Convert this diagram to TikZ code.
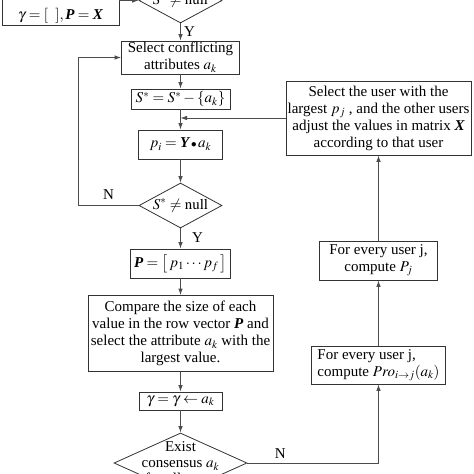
\documentclass[tikz,border=0pt]{standalone}
\usepackage{mathptmx}
\usepackage{fontspec}
\setmainfont{Liberation Serif}
\usetikzlibrary{shapes.geometric,arrows.meta}
\newcommand{\bv}[1]{\mbox{\bfseries\itshape #1}}
\tikzset{
  boxnode/.style={draw=black!80, line width=0.8pt, inner sep=1pt, align=center,
    font=\fontsize{15}{17}\selectfont},
  dianode/.style={draw=black!80, line width=0.8pt, diamond, inner sep=0pt},
  dialabel/.style={align=center, font=\fontsize{15}{16}\selectfont},
  arr/.style={draw=black!70, line width=0.8pt, -{Latex[length=6.5pt,width=4.5pt]}},
  lbl/.style={font=\fontsize{15}{17}\selectfont}
}
\begin{document}
\begin{tikzpicture}[x=1pt,y=-1pt]
\useasboundingbox (0,0) rectangle (474,474);
\clip (0,0) rectangle (474,474);
% left / main column
\node[boxnode, minimum width=117pt, text height=30pt, text depth=5pt] (init) at (60.5,7) {$\gamma=[\ \ ],\bv{P}=\bv{X}$};
\node[dianode, minimum width=83pt, minimum height=45pt,
  label={[dialabel]center:$S^{*}\neq\mathrm{null}$}] (d1) at (180.5,0.5) {};
\node[boxnode, minimum width=118pt, minimum height=33pt] (sel) at (180.5,57.5) {Select conflicting\\attributes $a_k$};
\node[boxnode, minimum width=99pt, minimum height=20pt] (smin) at (180.5,99) {$S^{*}=S^{*}-\{a_k\}$};
\node[boxnode, minimum width=84pt, minimum height=29pt] (pi) at (180.5,144.5) {$p_i=\bv{Y}\,{\scriptstyle\bullet}\,a_k$};
\node[dianode, minimum width=83pt, minimum height=45pt,
  label={[dialabel]center:$S^{*}\neq\mathrm{null}$}] (d2) at (180.5,205.5) {};
\node[boxnode, minimum width=100pt, minimum height=29pt] (pv) at (180.5,263.5) {$\bv{P}=\left[\,p_1\cdots p_f\,\right]$};
\node[boxnode, minimum width=185pt, minimum height=76pt] (cmp) at (180.5,333.5) {Compare the size of each\\value in the row vector \bv{P} and\\select the attribute $a_k$ with the\\largest value.};
\node[boxnode, minimum width=83pt, minimum height=18pt] (gam) at (180.5,401) {$\gamma=\gamma\leftarrow a_k$};
\node[dianode, minimum width=133pt, minimum height=60pt,
  label={[dialabel]center:Exist\\consensus $a_k$\\for all users}] (exist) at (180.5,463) {};
% right column
\node[boxnode, minimum width=185pt, minimum height=74pt] (usr) at (378.5,118) {Select the user with the\\largest $p_j$ , and the other users\\adjust the values in matrix \bv{X}\\according to that user};
\node[boxnode, minimum width=118pt, minimum height=39pt] (pj) at (378.5,260.5) {For every user j,\\compute $P_j$};
\node[boxnode, minimum width=134pt, minimum height=38pt, align=left] (pro) at (378.5,365) {For every user j,\\compute $Pro_{i\rightarrow j}(a_k)$};
% connectors
\draw[arr] (init.east |- d1.west) -- (d1.west);
\draw[arr] (d1.south) -- node[lbl, right=0pt, pos=0.45] {Y} (sel.north);
\draw[arr] (sel) -- (smin);
\draw[arr] (smin) -- (pi);
\draw[arr] (pi) -- (d2);
\draw[arr] (d2.south) -- node[lbl, right=8pt, pos=0.45] {Y} (pv.north);
\draw[arr] (pv) -- (cmp);
\draw[arr] (cmp) -- (gam);
\draw[arr] (gam) -- (exist);
\draw[arr] (d2.west) -- node[lbl, above=2pt, pos=0.5] {N} ++(-60,0) |- (sel.west);
\draw[arr] (exist.east) -- node[lbl, above=1pt, pos=0.25] {N} (pro.south |- exist.east) -- (pro.south);
\draw[arr] (pro) -- (pj);
\draw[arr] (pj) -- (usr);
\draw[arr] (usr.west) -- (usr.west -| smin.south);
\end{tikzpicture}
\end{document}
